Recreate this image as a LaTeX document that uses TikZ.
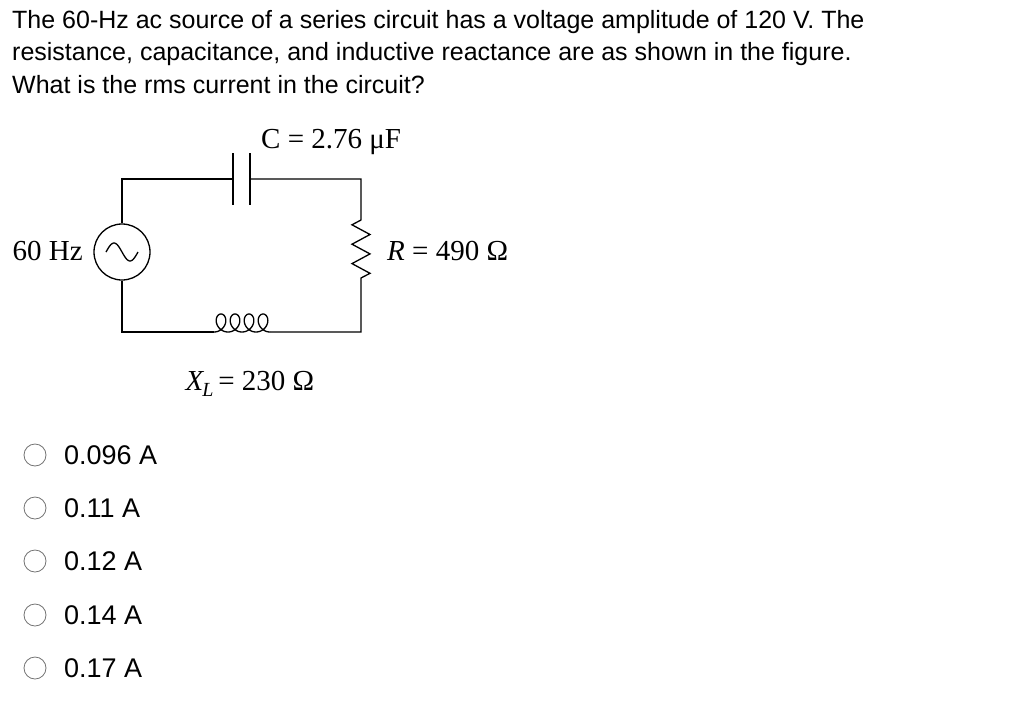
\documentclass[tikz,border=0pt]{standalone}
\usepackage{fontspec}
\setmainfont{Liberation Sans}
\newfontfamily\serifx{Liberation Serif}
\begin{document}
\begin{tikzpicture}[x=1pt,y=1pt,
  qtext/.style={anchor=west,inner sep=0pt,font=\fontsize{25}{29}\selectfont},
  atext/.style={anchor=west,inner sep=0pt,font=\fontsize{27}{31}\selectfont},
  ctext/.style={inner sep=0pt,font=\serifx\fontsize{29}{33}\selectfont},
  radio/.style={draw=black!55,circle,minimum size=22pt,inner sep=0pt,line width=0.8pt},
  wire/.style={line width=1.3pt}]
\useasboundingbox (0,0) rectangle (1036,-710);
\node[qtext] (q1) at (12,-22) {The 60-Hz ac source of a series circuit has a voltage amplitude of 120 V. The};
\node[qtext] (q2) at (12,-54) {resistance, capacitance, and inductive reactance are as shown in the figure.};
\node[qtext] (q3) at (12,-85) {What is the rms current in the circuit?};
% circuit
\coordinate (tl) at (122,-179);
\coordinate (tr) at (361,-179);
\coordinate (bl) at (122,-332);
\coordinate (br) at (361,-332);
\coordinate (c1) at (233,-179);
\coordinate (c2) at (250,-179);
\coordinate (r1) at (361,-220);
\coordinate (r2) at (361,-278);
\coordinate (l1) at (270,-332);
\coordinate (l2) at (214,-332);
\node[draw,circle,minimum size=56pt,inner sep=0pt,wire] (src) at (122,-252) {};
\draw[wire] plot[domain=-16:16,samples=40,smooth] ({122+\x},{-252-9*sin(\x*11.25)});
\draw[wire] (src.north) -- (tl) -- (c1);
\draw[wire] (233,-153) -- (233,-205);
\draw[wire] (250,-153) -- (250,-205);
\draw[wire] (c2) -- (tr) -- (r1) -- ++(-9,-4.8) -- ++(18,-9.7) -- ++(-18,-9.7) -- ++(18,-9.7) -- ++(-18,-9.7) -- ++(18,-9.7) -- (r2) -- (br) -- (l1);
\draw[wire] plot[domain=0:25.133,samples=200,smooth] ({214+2.23*\x+8*sin(\x r)},{-332+9*(1-cos(\x r))});
\draw[wire] (l2) -- (bl) -- (src.south);
\node[ctext,anchor=east] (lf) at (83,-251) {60 Hz};
\node[ctext,anchor=west] (lr) at (387,-251) {\textit{R} = 490 Ω};
\node[ctext,anchor=west] (lc) at (261,-142) {C = 2.76 μF};
\node[ctext] (ll) at (250,-384) {\textit{X}\kern-2pt\raisebox{-6pt}{\textit{\fontsize{20}{20}\selectfont L}}\,= 230 Ω};
% answers
\foreach \v/\t [count=\i] in {455/0.096 A,508/0.11 A,561/0.12 A,615/0.14 A,668/0.17 A}{
  \node[radio] (o\i) at (35,-\v) {};
  \node[atext] (a\i) at (64,-\v) {\t};
}
\end{tikzpicture}
\end{document}
